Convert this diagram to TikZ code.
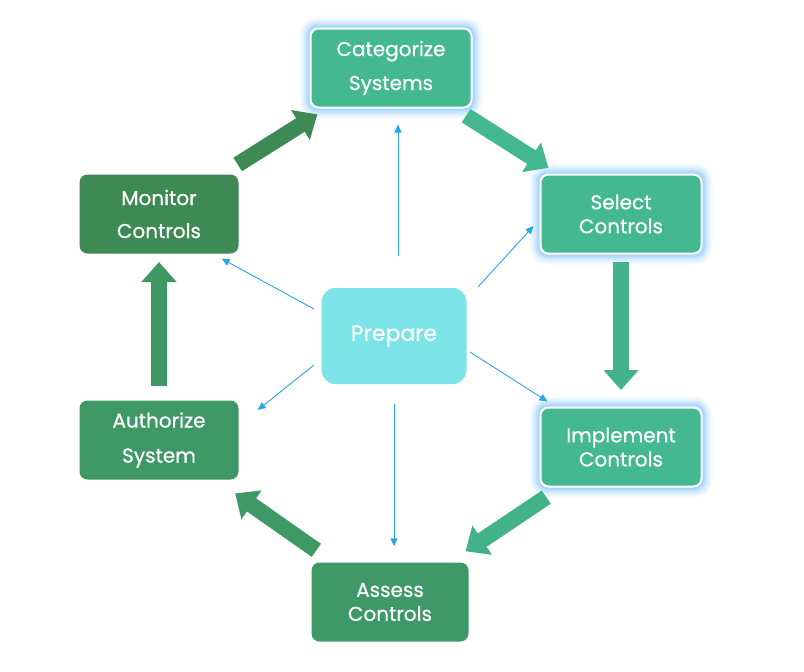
\documentclass[tikz,border=0pt]{standalone}
\usepackage{fontspec}
\setmainfont{Poppins}[FakeBold=0.6]
\usetikzlibrary{arrows.meta,calc,backgrounds}
\definecolor{tealbox}{HTML}{44B891}
\definecolor{darkbox}{HTML}{3E8A55}
\definecolor{midbox}{HTML}{3F9966}
\definecolor{prepc}{HTML}{7CE3E7}
\definecolor{thinblue}{HTML}{29A8E0}
\definecolor{glowc}{HTML}{8CCBFA}
\tikzset{
  box/.style={rounded corners=8pt, minimum width=161pt, minimum height=79pt,
    text=white, align=center, inner sep=0pt},
  tealnode/.style={box, fill=tealbox, draw=white, line width=2pt},
  bigarrow/.style={line width=16pt, -{Triangle[length=20pt,width=34pt]}},
  thinarrow/.style={draw=thinblue, line width=0.9pt, -{Triangle[length=8pt,width=7pt]}},
}
\newcommand{\glowbox}[1]{%
  \foreach \r/\o in {10/0.08,8/0.13,6/0.18,4/0.28,2/0.45}{%
    \fill[glowc, opacity=\o, rounded corners={(8+\r)*1pt}]
      ($(#1.south west)+(-\r,\r)$) rectangle ($(#1.north east)+(\r,-\r)$);
  }%
}
\begin{document}
\begin{tikzpicture}[x=1pt,y=-1pt]
\useasboundingbox (0,0) rectangle (804,672);

\node[tealnode, font=\fontsize{20}{34}\selectfont] (cat) at (391,68) {Categorize\\Systems};
\node[tealnode, font=\fontsize{20}{24}\selectfont] (sel) at (621,214) {Select\\Controls};
\node[tealnode, font=\fontsize{20}{24}\selectfont] (imp) at (621,447) {Implement\\Controls};
\node[box, fill=midbox, minimum width=157pt, font=\fontsize{20}{24}\selectfont] (ass) at (390,602) {Assess\\Controls};
\node[box, fill=midbox, minimum width=159pt, font=\fontsize{20}{35}\selectfont] (aut) at (159,440) {Authorize\\System};
\node[box, fill=darkbox, minimum width=159pt, font=\fontsize{20}{33}\selectfont] (mon) at (159,214) {Monitor\\Controls};
\node[rounded corners=14pt, fill=prepc, minimum width=145pt, minimum height=96pt,
      text=white, inner sep=0pt, font=\fontsize{22}{26}\selectfont] (prep) at (394,336) {Prepare};

\begin{scope}[on background layer]
  \fill[white] (0,0) rectangle (804,672);
  \glowbox{cat}
  \glowbox{sel}
  \glowbox{imp}
\end{scope}

% cycle arrows
\draw[bigarrow, draw=darkbox, shorten <=93pt, shorten >=87pt] (mon.center) -- (cat.center);
\draw[bigarrow, draw=tealbox, shorten <=89pt, shorten >=86pt] (cat.center) -- (sel.center);
\draw[bigarrow, draw=tealbox!90!darkbox, shorten <=48pt, shorten >=57pt] (sel.center) -- (imp.center);
\draw[bigarrow, draw=tealbox!80!midbox, shorten <=90pt, shorten >=91pt] (imp.center) -- (ass.center);
\draw[bigarrow, draw=midbox, shorten <=90pt, shorten >=93pt] (ass.center) -- (aut.center);
\draw[bigarrow, draw=midbox!85!darkbox, shorten <=54pt, shorten >=48pt] (aut.center) -- (mon.center);

% thin arrows from Prepare
\draw[thinarrow] ($(prep.center)+(4,-80)$) -- ($(cat.south)+(7,16)$);
\draw[thinarrow] ($(prep.center)+(84,-49)$) -- ($(sel.west)+(-6,12)$);
\draw[thinarrow] ($(prep.center)+(76,16)$) -- ($(imp.north west)+(8,-5)$);
\draw[thinarrow] ($(prep.center)+(0,68)$) -- ($(ass.north)+(4,-16)$);
\draw[thinarrow] ($(prep.center)+(-80,29)$) -- ($(aut.east)+(19,-30)$);
\draw[thinarrow] ($(prep.center)+(-80,-27)$) -- ($(mon.south east)+(-17,5)$);
\end{tikzpicture}
\end{document}
